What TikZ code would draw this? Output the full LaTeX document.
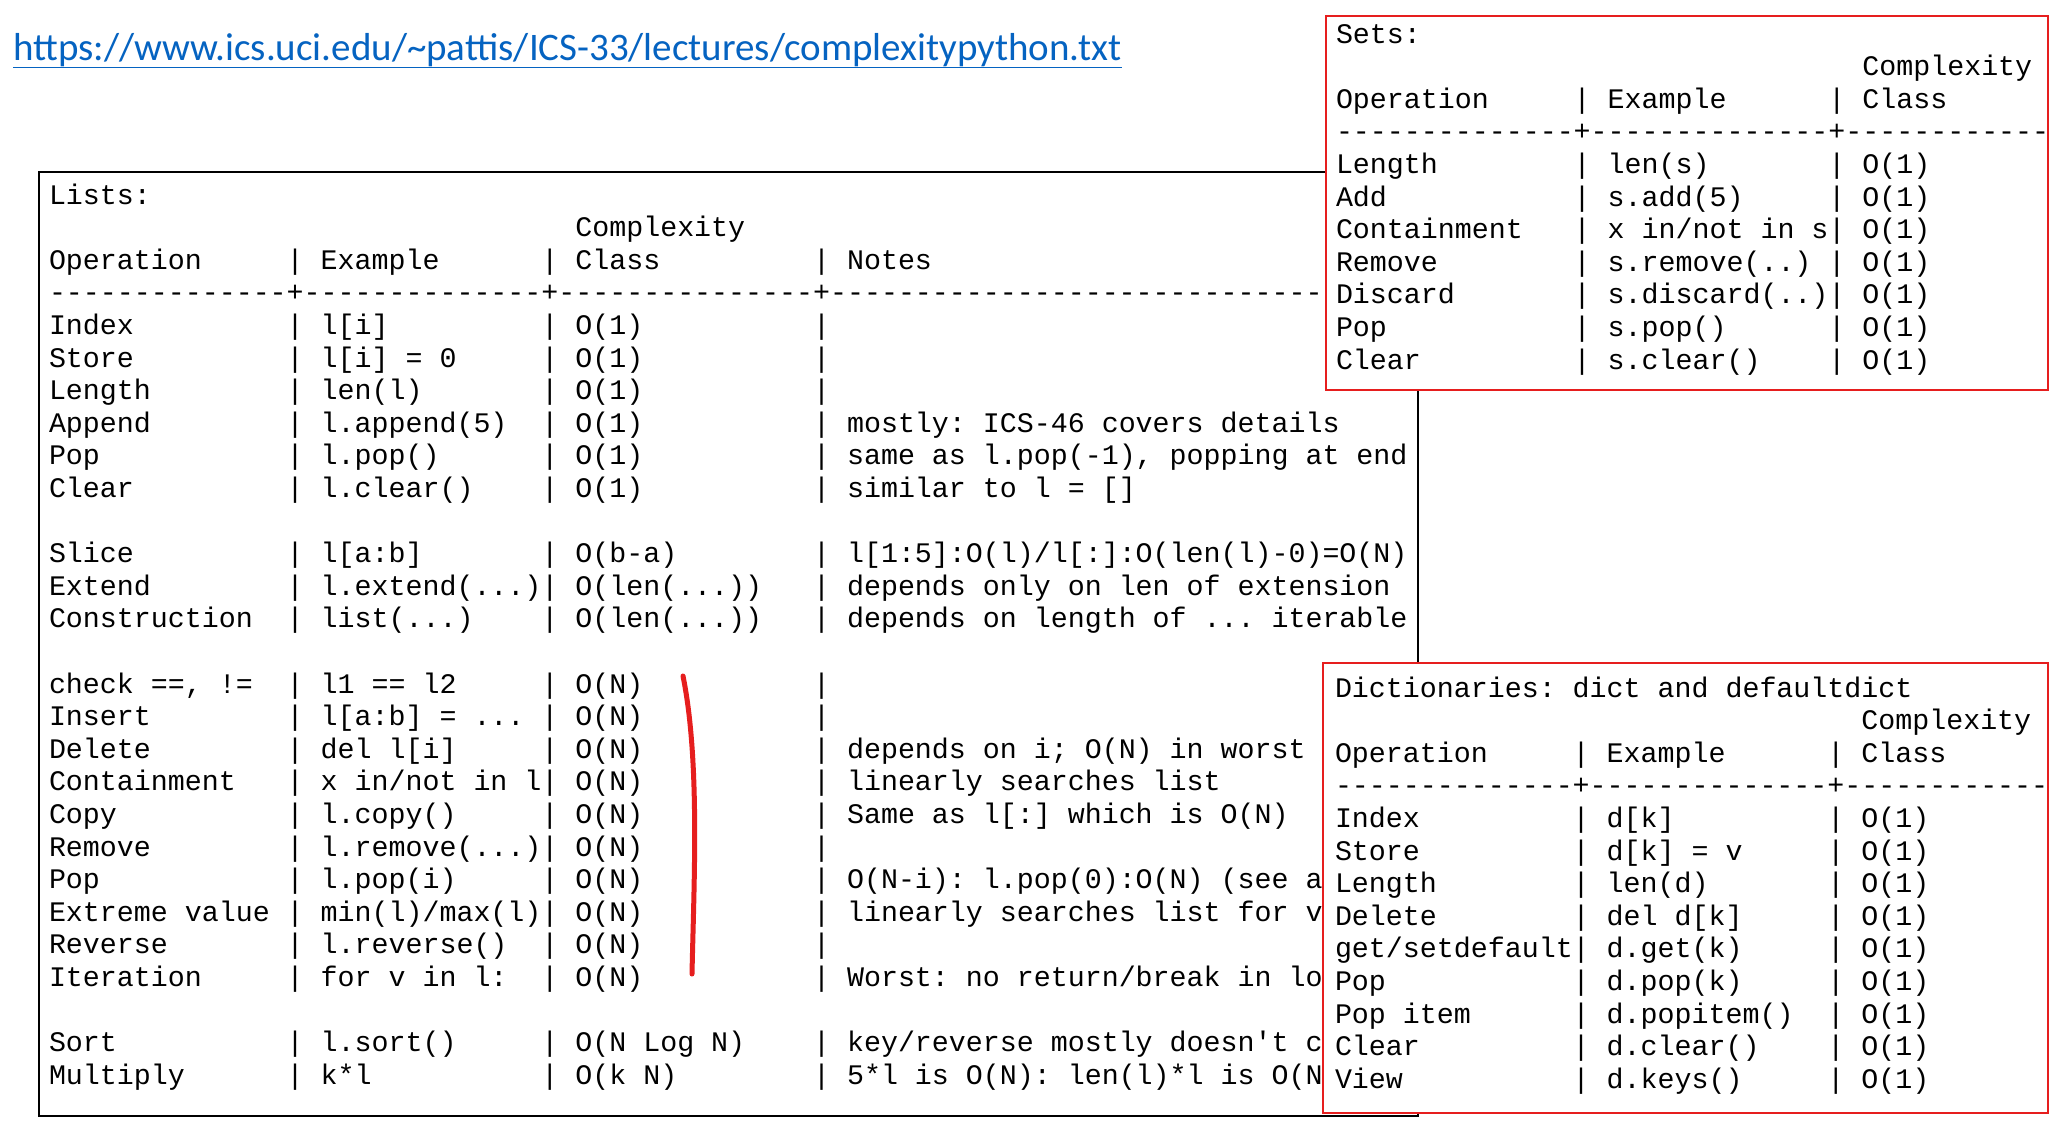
\documentclass[tikz,border=0pt]{standalone}
\usepackage{fontspec}
\setmonofont{Liberation Mono}
\newfontfamily\urlfont{Carlito}
\definecolor{linkblue}{RGB}{5,99,193}
\definecolor{boxred}{RGB}{230,30,30}
\newcommand{\cw}{16.98}
\newcommand{\lh}{32.6}
\tikzset{
  txt/.style={anchor=base west,inner sep=0pt,outer sep=0pt,font=\ttfamily\fontsize{28.3}{32.6}\selectfont},
  listbox/.style={draw=black,line width=2pt},
  redbox/.style={draw=boxred,line width=2.2pt,fill=white},
}
\newcommand{\rt}[5]{\node[txt] at ({#1+#4*\cw},{#2+#3*\lh}) {#5};}
\newcommand{\lrow}[5]{\rt{49}{204}{#1}{0}{#2}\rt{49}{204}{#1}{14}{|}\rt{49}{204}{#1}{16}{#3}\rt{49}{204}{#1}{29}{|}\rt{49}{204}{#1}{31}{#4}\rt{49}{204}{#1}{45}{|}\rt{49}{204}{#1}{47}{#5}}
\newcommand{\srow}[4]{\rt{1336}{43}{#1}{0}{#2}\rt{1336}{43}{#1}{14}{|}\rt{1336}{43}{#1}{16}{#3}\rt{1336}{43}{#1}{29}{|}\rt{1336}{43}{#1}{31}{#4}}
\newcommand{\drow}[4]{\rt{1335}{697}{#1}{0}{#2}\rt{1335}{697}{#1}{14}{|}\rt{1335}{697}{#1}{16}{#3}\rt{1335}{697}{#1}{29}{|}\rt{1335}{697}{#1}{31}{#4}}
\begin{document}
\begin{tikzpicture}[x=1pt,y=-1pt]
\useasboundingbox[fill=white] (0,0) rectangle (2058,1128);
\node[anchor=base west,inner sep=0pt,text=linkblue,font=\urlfont\fontsize{39}{46}\selectfont] (url) at (13,60) {\underline{https://www.ics.uci.edu/\textasciitilde pattis/ICS-33/lectures/complexitypython.txt}};
% Lists
\draw[listbox] (39,172) rectangle (1418,1116);
\begin{scope}
\clip (40,173) -- (1417,173) -- (1417,662) -- (1322,662) -- (1322,1115) -- (40,1115) -- cycle;
\rt{49}{204}{0}{0}{Lists:}
\rt{49}{204}{1}{31}{Complexity}
\lrow{2}{Operation}{Example}{Class}{Notes}
\rt{49}{204}{3}{0}{--------------+--------------+---------------+--------------------------------}
\lrow{4}{Index}{l[i]}{O(1)}{}
\lrow{5}{Store}{l[i] = 0}{O(1)}{}
\lrow{6}{Length}{len(l)}{O(1)}{}
\lrow{7}{Append}{l.append(5)}{O(1)}{mostly: ICS-46 covers details}
\lrow{8}{Pop}{l.pop()}{O(1)}{same as l.pop(-1), popping at end}
\lrow{9}{Clear}{l.clear()}{O(1)}{similar to l = []}
\lrow{11}{Slice}{l[a:b]}{O(b-a)}{l[1:5]:O(l)/l[:]:O(len(l)-0)=O(N)}
\lrow{12}{Extend}{l.extend(...)}{O(len(...))}{depends only on len of extension}
\lrow{13}{Construction}{list(...)}{O(len(...))}{depends on length of ... iterable}
\lrow{15}{check ==, !=}{l1 == l2}{O(N)}{}
\lrow{16}{Insert}{l[a:b] = ...}{O(N)}{}
\lrow{17}{Delete}{del l[i]}{O(N)}{depends on i; O(N) in worst c}
\lrow{18}{Containment}{x in/not in l}{O(N)}{linearly searches list}
\lrow{19}{Copy}{l.copy()}{O(N)}{Same as l[:] which is O(N)}
\lrow{20}{Remove}{l.remove(...)}{O(N)}{}
\lrow{21}{Pop}{l.pop(i)}{O(N)}{O(N-i): l.pop(0):O(N) (see ab}
\lrow{22}{Extreme value}{min(l)/max(l)}{O(N)}{linearly searches list for va}
\lrow{23}{Reverse}{l.reverse()}{O(N)}{}
\lrow{24}{Iteration}{for v in l:}{O(N)}{Worst: no return/break in loo}
\lrow{26}{Sort}{l.sort()}{O(N Log N)}{key/reverse mostly doesn't ch}
\lrow{27}{Multiply}{k*l}{O(k N)}{5*l is O(N): len(l)*l is O(N*}
\end{scope}
\coordinate (r1) at (683,676);
\coordinate (r2) at (692,974);
\draw[boxred,line width=5pt,line cap=round] (r1) .. controls (700,760) and (694,880) .. (r2);
% Sets
\draw[redbox] (1326,16) rectangle (2048,390);
\begin{scope}
\clip (1327,17) rectangle (2047,389);
\rt{1336}{43}{0}{0}{Sets:}
\rt{1336}{43}{1}{31}{Complexity}
\srow{2}{Operation}{Example}{Class}
\rt{1336}{43}{3}{0}{--------------+--------------+------------}
\srow{4}{Length}{len(s)}{O(1)}
\srow{5}{Add}{s.add(5)}{O(1)}
\srow{6}{Containment}{x in/not in s}{O(1)}
\srow{7}{Remove}{s.remove(..)}{O(1)}
\srow{8}{Discard}{s.discard(..)}{O(1)}
\srow{9}{Pop}{s.pop()}{O(1)}
\srow{10}{Clear}{s.clear()}{O(1)}
\end{scope}
% Dicts
\draw[redbox] (1323,663) rectangle (2048,1113);
\begin{scope}
\clip (1324,664) rectangle (2047,1112);
\rt{1335}{697}{0}{0}{Dictionaries: dict and defaultdict}
\rt{1335}{697}{1}{31}{Complexity}
\drow{2}{Operation}{Example}{Class}
\rt{1335}{697}{3}{0}{--------------+--------------+------------}
\drow{4}{Index}{d[k]}{O(1)}
\drow{5}{Store}{d[k] = v}{O(1)}
\drow{6}{Length}{len(d)}{O(1)}
\drow{7}{Delete}{del d[k]}{O(1)}
\drow{8}{get/setdefault}{d.get(k)}{O(1)}
\drow{9}{Pop}{d.pop(k)}{O(1)}
\drow{10}{Pop item}{d.popitem()}{O(1)}
\drow{11}{Clear}{d.clear()}{O(1)}
\drow{12}{View}{d.keys()}{O(1)}
\end{scope}
\end{tikzpicture}
\end{document}
